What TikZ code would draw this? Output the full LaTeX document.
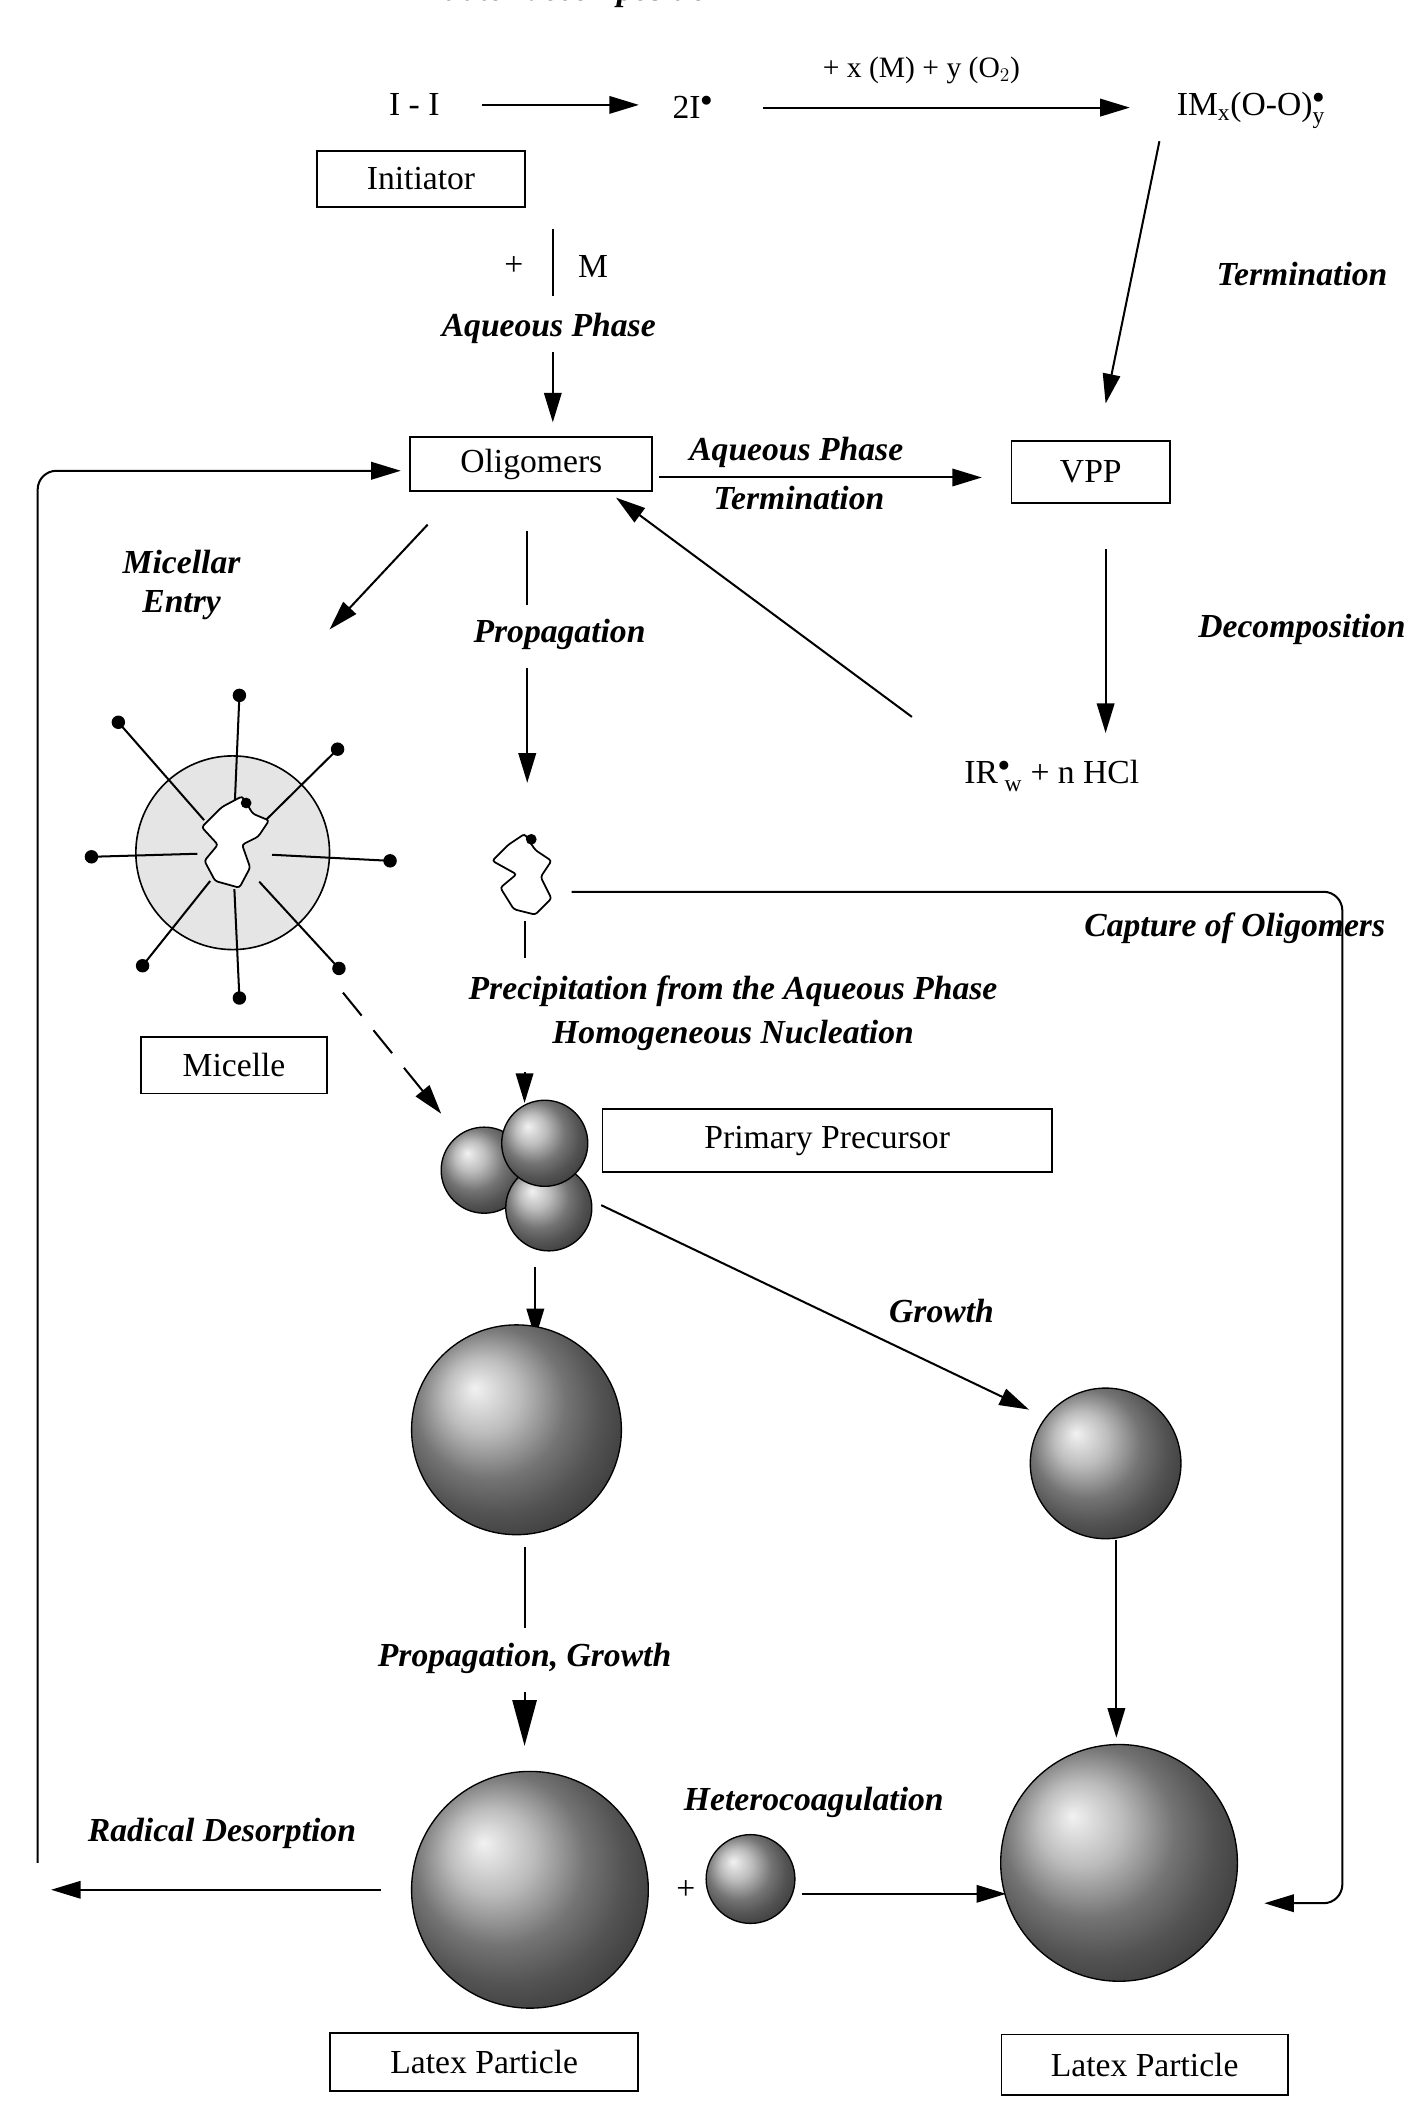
\documentclass[tikz,border=0pt]{standalone}
\usepackage{fontspec}
\setmainfont{Liberation Serif}
\usetikzlibrary{arrows.meta,calc}
\begin{document}
\begin{tikzpicture}[x=1pt,y=-1pt,
 txt/.style={font=\fontsize{25}{29}\selectfont},
 lab/.style={font=\fontsize{25}{29}\selectfont\bfseries\itshape},
 box/.style={draw,line width=1.3pt,font=\fontsize{25}{29}\selectfont,minimum height=42,inner xsep=6},
 ar/.style={line width=1.5pt,-{Triangle[length=22,width=13]}},
 ln/.style={line width=1.5pt},
 ballS/.style={shading=ball,ball color=gray!70,draw=black,line width=1pt},
 chain/.style={line width=1.3pt,rounded corners=2}]
\useasboundingbox (0,0) rectangle (1053,1568);
\begin{scope}
\clip (0,0) rectangle (1053,1568);
\node[lab] (title) at (420,-6) {Initiator decomposition};
\node[txt] (II) at (308,78) {I - I};
\node[txt] (2I) at (515,80) {2I$^{\bullet}$};
\node[txt] (IM) at (930,82) {IM$_{\mathrm{x}}$(O-O)$_{\mathrm{y}}^{\bullet}$};
\node[txt,font=\fontsize{22}{26}\selectfont] (xm) at (685,52) {+ x (M) + y (O$_2$)};
\node[box,minimum width=155] (init) at (313,133) {Initiator};
\node[txt] (plus) at (382,198) {+};
\node[txt] (M) at (441,198) {M};
\node[lab] (aq) at (408,244) {Aqueous Phase};
\node[box,minimum width=180,minimum height=40] (olig) at (395,345) {Oligomers};
\node[lab] (aqt1) at (592,336) {Aqueous Phase};
\node[lab] (aqt2) at (594,370) {Termination};
\node[box,minimum width=118,minimum height=46] (vpp) at (811,351) {VPP};
\node[lab] (term) at (968,204) {Termination};
\node[lab] (dec) at (968,468) {Decomposition};
\node[txt] (IR) at (782,577) {IR$^{\bullet}_{\;\mathrm{w}}$ + n HCl};
\node[lab,align=center] (me) at (135,435) {Micellar\\Entry};
\node[lab] (prop) at (416,472) {Propagation};
\node[lab] (cap) at (918,690) {Capture of Oligomers};
\node[lab] (prec) at (545,737) {Precipitation from the Aqueous Phase};
\node[lab] (hom) at (545,770) {Homogeneous Nucleation};
\node[box,minimum width=138] (mic) at (174,792) {Micelle};
\node[box,minimum width=334,minimum height=47] (pp) at (615,848) {Primary Precursor};
\node[lab] (growth) at (700,975) {Growth};
\node[lab] (pg) at (390,1233) {Propagation, Growth};
\node[lab] (het) at (605,1340) {Heterocoagulation};
\node[lab] (rd) at (165,1363) {Radical Desorption};
\node[box,minimum width=229,minimum height=43] (lp1) at (360,1533) {Latex Particle};
\node[box,minimum width=213,minimum height=45] (lp2) at (851,1535) {Latex Particle};
% top arrows
\coordinate (a1) at (358,78); \coordinate (a2) at (475,78);
\draw[ar] (a1) -- (a2);
\coordinate (b1) at (567,80); \coordinate (b2) at (840,80);
\draw[ar] (b1) -- (b2);
\coordinate (m1) at (411,170); \coordinate (m2) at (411,220);
\draw[ln] (m1) -- (m2);
\coordinate (c1) at (411,262); \coordinate (c2) at (411,314);
\draw[ar] (c1) -- (c2);
\coordinate (o1) at (490,355); \coordinate (o2) at (730,355);
\draw[ar] (o1) -- (o2);
\coordinate (t1) at (862,105); \coordinate (t2) at (822,300);
\draw[ar] (t1) -- (t2);
\coordinate (d1) at (822,408); \coordinate (d2) at (822,545);
\draw[ar] (d1) -- (d2);
\coordinate (r1) at (678,533); \coordinate (r2) at (458,370);
\draw[ar] (r1) -- (r2);
\coordinate (l1) at (28,1385); \coordinate (l2) at (298,350);
\draw[ar,rounded corners=14] (l1) -- (28,350) -- (l2);
\coordinate (e1) at (318,390); \coordinate (e2) at (245,468);
\draw[ar] (e1) -- (e2);
\coordinate (p1) at (392,395); \coordinate (p2) at (392,450);
\draw[ln] (p1) -- (p2);
\coordinate (p3) at (392,497); \coordinate (p4) at (392,582);
\draw[ar] (p3) -- (p4);
% micelle
\coordinate (mc) at (173,634);
\fill[gray!20] (mc) circle (72);
\draw[line width=1.2pt] (mc) circle (72);
\foreach \x/\y in {178/517,251/557,290/640,252/720,178/742,106/718,68/637,88/537}{
  \draw[ln] ($(mc)!0.25!(\x,\y)$) -- (\x,\y);
  \fill (\x,\y) circle (5);}
\draw[chain,fill=white] (165,600) -- (180,592) -- (188,605) -- (200,610) -- (192,622) -- (180,628) -- (186,645) -- (178,660) -- (160,655) -- (152,640) -- (162,628) -- (150,615) -- cycle;
\fill (183,597) circle (4);
% precipitating chain
\draw[chain,fill=white] (378,628) -- (390,620) -- (398,632) -- (410,640) -- (402,652) -- (410,668) -- (398,680) -- (382,676) -- (372,660) -- (384,650) -- (366,640) -- cycle;
\fill (395,624) circle (4);
\coordinate (q1) at (390,685); \coordinate (q2) at (390,712);
\draw[ln] (q1) -- (q2);
\coordinate (q3) at (390,797); \coordinate (q4) at (390,820);
\draw[ar] (q3) -- (q4);
% capture
\coordinate (k1) at (425,663); \coordinate (k2) at (940,1415);
\draw[ar,rounded corners=14] (k1) -- (998,663) -- (998,1415) -- (k2);
% dashed
\coordinate (f1) at (255,738); \coordinate (f2) at (328,828);
\draw[ar,dash pattern=on 22pt off 14pt] (f1) -- (f2);
% precursor balls
\shade[ballS] (360,870) circle (32);
\shade[ballS] (408,898) circle (32);
\shade[ballS] (405,850) circle (32);
\coordinate (g0a) at (398,942); \coordinate (g0b) at (398,995);
\draw[ar] (g0a) -- (g0b);
\coordinate (g1) at (447,896); \coordinate (g2) at (765,1048);
\draw[ar] (g1) -- (g2);
\shade[ballS] (384,1063) circle (78);
\shade[ballS] (822,1088) circle (56);
\coordinate (h1) at (830,1145); \coordinate (h2) at (830,1292);
\draw[ar] (h1) -- (h2);
\coordinate (j1) at (390,1150); \coordinate (j2) at (390,1210);
\draw[ln] (j1) -- (j2);
\coordinate (j3) at (390,1258); \coordinate (j4) at (390,1298);
\draw[line width=1.5pt,-{Triangle[length=34,width=18]}] (j3) -- (j4);
\shade[ballS] (394,1405) circle (88);
\node[txt] (plus2) at (510,1405) {+};
\shade[ballS] (558,1397) circle (33);
\coordinate (w1) at (596,1408); \coordinate (w2) at (748,1408);
\draw[ar] (w1) -- (w2);
\shade[ballS] (832,1385) circle (88);
\coordinate (z1) at (283,1405); \coordinate (z2) at (38,1405);
\draw[ar] (z1) -- (z2);
\end{scope}
\end{tikzpicture}
\end{document}
